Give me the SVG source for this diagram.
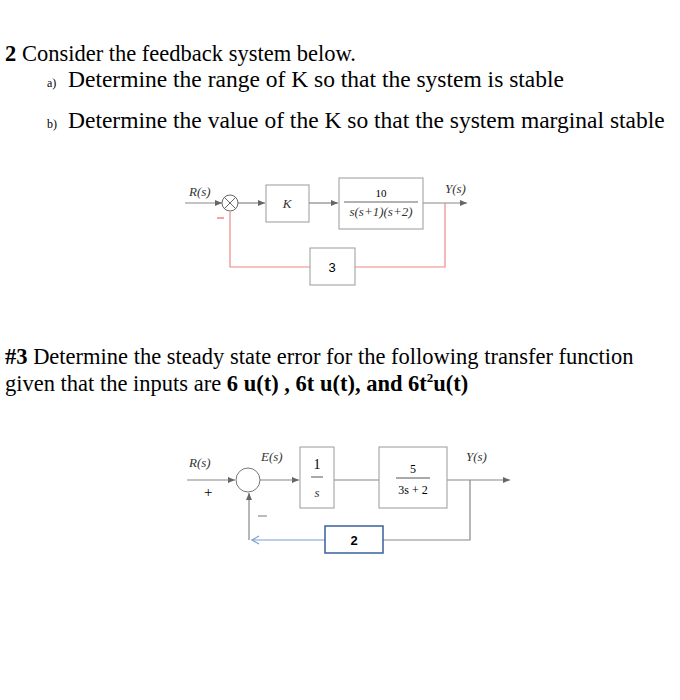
<svg xmlns="http://www.w3.org/2000/svg" width="680" height="700" viewBox="0 0 680 700">
<style>
.t{font-family:"Liberation Serif",serif;fill:#000}
.big{font-size:22.5px}
.sm{font-size:12px}
.lab{font-family:"Liberation Serif",serif;font-style:italic;font-size:13px;fill:#333}
.box{fill:#fff;stroke:#999;stroke-width:1}
.pk{fill:none;stroke:#e88;stroke-width:1.2}
.gr{fill:none;stroke:#888;stroke-width:1.2}
</style>
<defs>
<marker id="a" markerWidth="8" markerHeight="8" refX="7" refY="4" orient="auto" markerUnits="userSpaceOnUse"><path d="M0,1 L7,4 L0,7 z" fill="#666"/></marker>
<marker id="b" markerWidth="10" markerHeight="10" refX="8" refY="5" orient="auto" markerUnits="userSpaceOnUse"><path d="M1,1 L8,5 L1,9" fill="none" stroke="#7aa0d0" stroke-width="1.2"/></marker>
</defs>
<rect width="680" height="700" fill="#fff"/>
<text class="t big" x="5" y="61"><tspan font-weight="bold">2</tspan> Consider the feedback system below.</text>
<text class="t sm" x="47" y="87">a)</text>
<text class="t" font-size="23.5" x="68" y="87">Determine the range of K so that the system is stable</text>
<text class="t sm" x="47" y="128">b)</text>
<text class="t" font-size="23.5" x="68" y="128">Determine the value of the K so that the system marginal stable</text>
<text class="t big" x="5" y="364"><tspan font-weight="bold">#3</tspan> Determine the steady state error for the following transfer function</text>
<text class="t big" x="5" y="391">given that the inputs are <tspan font-weight="bold">6 u(t) , 6t u(t),  and 6t<tspan font-size="13" dy="-9">2</tspan><tspan dy="9">u(t)</tspan></tspan></text>

<g id="connectors">
<line class="gr" x1="185" y1="203" x2="222" y2="203" marker-end="url(#a)"/>
<line class="gr" x1="238" y1="203" x2="265" y2="203" marker-end="url(#a)"/>
<line class="gr" x1="309" y1="203" x2="338" y2="203" marker-end="url(#a)"/>
<line class="gr" x1="423" y1="203" x2="467" y2="203" marker-end="url(#a)"/>
<polyline class="pk" points="445,203 445,267 355,267"/>
<polyline class="pk" points="310,267 230,267 230,212"/>
<line x1="217" y1="218" x2="224" y2="218" stroke="#e66" stroke-width="1.2"/>

<line class="gr" x1="187" y1="480" x2="235" y2="480" marker-end="url(#a)"/>
<line class="gr" x1="260" y1="480" x2="299" y2="480" marker-end="url(#a)"/>
<line class="gr" x1="334" y1="480" x2="379" y2="480"/>
<line class="gr" x1="447" y1="480" x2="510" y2="480" marker-end="url(#a)"/>
<polyline class="gr" points="470,480 470,540 383,540"/>
<line x1="325" y1="540" x2="252" y2="540" stroke="#7aa0d0" stroke-width="1.2" marker-end="url(#b)"/>
<line class="gr" x1="249" y1="540" x2="249" y2="493" marker-end="url(#a)"/>
</g>

<g id="sum1"><circle cx="230" cy="203" r="8" fill="#fff" stroke="#666"/><path d="M224.3,197.3 L235.7,208.7 M235.7,197.3 L224.3,208.7" stroke="#666"/></g>
<g id="k"><rect class="box" x="266" y="185" width="43" height="37"/><text class="lab" x="287" y="208" text-anchor="middle">K</text></g>
<g id="g1"><rect class="box" x="339" y="178" width="84" height="51"/><text class="t" font-size="11" x="381" y="197" text-anchor="middle">10</text><line x1="344" y1="202" x2="418" y2="202" stroke="#666"/><text class="lab" font-size="11" x="381" y="216" text-anchor="middle">s(s+1)(s+2)</text></g>
<g id="h1"><rect class="box" x="310" y="248" width="45" height="37"/><text font-family="Liberation Sans,sans-serif" font-size="13" x="332" y="272" text-anchor="middle">3</text></g>
<text class="lab" x="189" y="196">R(s)</text>
<text class="lab" x="445" y="193">Y(s)</text>

<g id="sum2"><circle cx="248" cy="480" r="12" fill="#fff" stroke="#777"/></g>
<g id="g2a"><rect class="box" x="300" y="447" width="34" height="61"/><text class="t" font-size="14" x="317" y="469" text-anchor="middle">1</text><line x1="311" y1="477" x2="323" y2="477" stroke="#555"/><text class="lab" font-size="13" x="317" y="497" text-anchor="middle">s</text></g>
<g id="g2b"><rect class="box" x="379" y="447" width="68" height="61"/><text class="t" font-size="12" x="413" y="473" text-anchor="middle">5</text><line x1="396" y1="478" x2="430" y2="478" stroke="#555"/><text class="t" font-size="12" x="413" y="494" text-anchor="middle">3s + 2</text></g>
<g id="h2"><rect x="325" y="526" width="58" height="27" fill="#fff" stroke="#3a5f9a" stroke-width="1.5"/><text font-family="Liberation Sans,sans-serif" font-weight="bold" font-size="13" x="354" y="545" text-anchor="middle">2</text></g>
<text class="lab" x="189" y="467">R(s)</text>
<text class="lab" x="261" y="461">E(s)</text>
<text class="lab" x="466" y="461">Y(s)</text>
<text class="t" font-size="15" fill="#666" x="204" y="497">+</text>
<line x1="258" y1="516" x2="267" y2="516" stroke="#777"/>
</svg>
